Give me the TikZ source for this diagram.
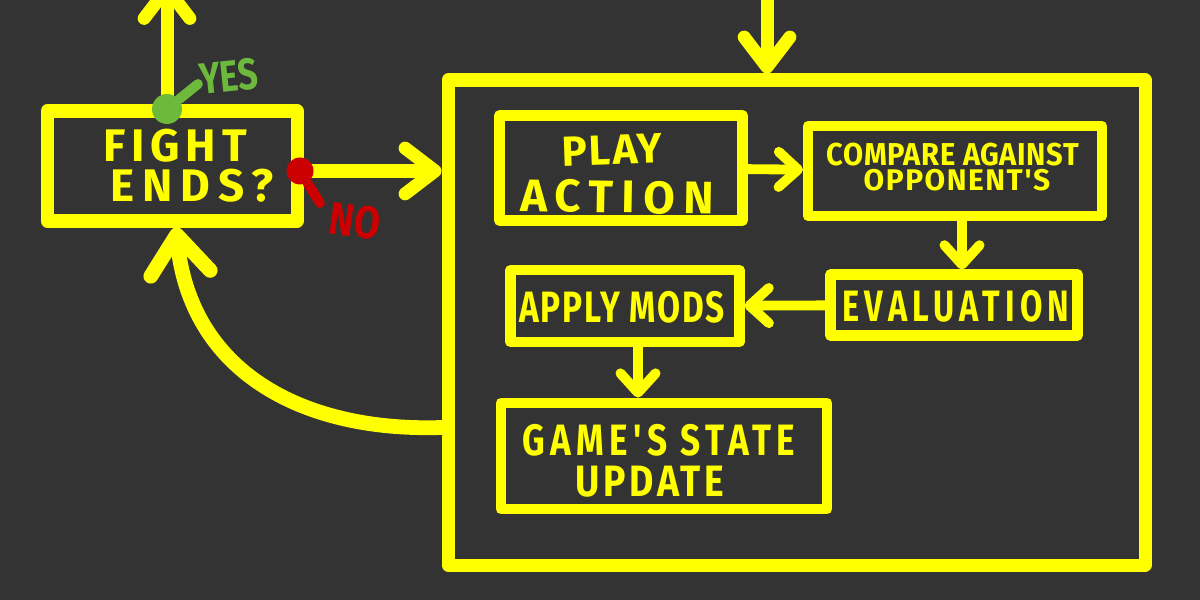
\documentclass[tikz,border=0pt]{standalone}
\usepackage{fontspec}
\usepackage{tikz}
\usetikzlibrary{arrows.meta,positioning}
\newfontfamily\handfont{Fira Sans}
\definecolor{hwyellow}{HTML}{FFFF00}
\definecolor{hwback}{HTML}{333333}
\definecolor{hwgreen}{HTML}{6DB93C}
\definecolor{hwred}{HTML}{CC0000}
\tikzset{
  box/.style={draw=hwyellow,rectangle,inner sep=0pt,line join=round},
  hand/.style n args={3}{inner sep=0pt,text=hwyellow,font=\handfont\bfseries\fontsize{#1}{#1}\selectfont\addfontfeature{LetterSpace=#2,FakeStretch=#3}},
  bigarr/.style={draw=hwyellow,line width=3.7pt,line cap=round,-{Straight Barb[length=8.5pt,width=13pt,round]}},
  curvearr/.style={draw=hwyellow,line width=4.2pt,line cap=round,-{Straight Barb[length=11pt,width=17pt,round]}},
  smallarr/.style={draw=hwyellow,line width=2.8pt,line cap=round,-{Straight Barb[length=5.5pt,width=10pt,round]}},
  dot/.style={circle,inner sep=0pt,minimum size=#1},
}
\begin{document}
\begin{tikzpicture}[x=0.1mm,y=-0.1mm]
        \useasboundingbox (0,0) rectangle (1200,600);
        \fill[hwback] (0,0) rectangle (1200,600);

        \node[box,line width=3.7pt,minimum width=25mm,minimum height=11mm] (fight) at (172,166) {};
        \node[box,line width=3.7pt,minimum width=69.7mm,minimum height=48.5mm] (main) at (796.5,322.5) {};
        \node[box,line width=3.1pt,minimum width=24.3mm,minimum height=10.5mm] (play) at (621,168) {};
        \node[box,line width=2.9pt,minimum width=29.4mm,minimum height=9mm] (compare) at (955,171) {};
        \node[box,line width=2.9pt,minimum width=24.7mm,minimum height=6.1mm] (evaluation) at (954,305) {};
        \node[box,line width=2.9pt,minimum width=22.9mm,minimum height=7.2mm] (apply) at (625,306) {};
        \node[box,line width=3.1pt,minimum width=32.6mm,minimum height=10.6mm] (game) at (664,456) {};

        \node[hand={13}{13}{1}] (fightline) at (175,146) {FIGHT};
        \node[hand={13}{17}{1}] (endsline) at (192,186) {ENDS?};
        \node[hand={12}{4}{1},rotate=2] (playline) at (612,150) {PLAY};
        \node[hand={13}{18}{1},rotate=-1] (actionline) at (617,197) {ACTION};
        \node[hand={9}{2}{.92}] (compareline) at (953,155) {COMPARE AGAINST};
        \node[hand={8.5}{5}{1}] (opponentline) at (957,180) {OPPONENT'S};
        \node[hand={12.5}{12}{.74}] (evaluationline) at (956,306) {EVALUATION};
        \node[hand={12.5}{4}{.76}] (applyline) at (622,307) {APPLY MODS};
        \node[hand={12.5}{12}{.8}] (gameline) at (659,440) {GAME'S STATE};
        \node[hand={12.5}{8}{.85}] (updateline) at (650,482) {UPDATE};

        \coordinate (yespoint) at (167,109);
        \coordinate (nopoint) at (300,171);
        \coordinate (exit) at (167,-18);
        \coordinate (entry) at (767,-6);
        \coordinate (yestail) at (198,84);
        \coordinate (notail) at (320,203);

        \draw[bigarr] (fight.north -| yespoint) -- (exit);
        \draw[bigarr] (entry) -- (main.north -| entry);
        \draw[bigarr] (nopoint) -- (main.west |- nopoint);
        \draw[smallarr] (play) -- (compare);
        \draw[smallarr] ([xshift=0.7mm]compare.south) -- ([xshift=0.8mm]evaluation.north);
        \draw[smallarr] (evaluation) -- (apply);
        \draw[smallarr] ([xshift=1.3mm]apply.south) -- ([xshift=-2.6mm]game.north);
        \draw[curvearr] ([yshift=-10.5mm]main.west) .. controls (300,432) and (190,370) .. ([xshift=0.4mm]fight.south);

        \node[dot=3mm,fill=hwgreen] (yesdot) at (yespoint) {};
        \node[dot=2.7mm,fill=hwred] (nodot) at (nopoint) {};
        \draw[hwgreen,line width=2.8pt,line cap=round] (yesdot) -- (yestail);
        \draw[hwred,line width=2.8pt,line cap=round] (nodot) -- (notail);
        \node[hand={12.5}{0}{.8},text=hwgreen,rotate=6] (yeslabel) at (229,76) {YES};
        \node[hand={13}{0}{.82},text=hwred,rotate=-8] (nolabel) at (355,221) {NO};
\end{tikzpicture}
\end{document}
